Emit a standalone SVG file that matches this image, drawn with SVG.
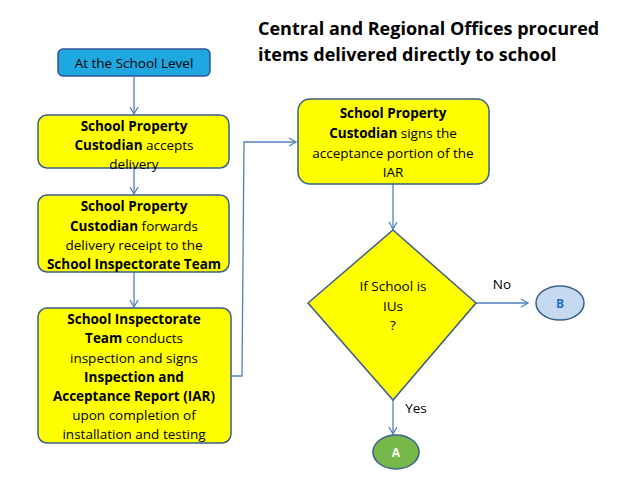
<svg xmlns="http://www.w3.org/2000/svg" width="638" height="478" viewBox="0 0 638 478">
<defs>
<style>
text{font-family:"Open Sans","Liberation Sans",sans-serif;font-size:13.5px;fill:#000;text-anchor:middle}
.b{font-weight:bold}
.box{fill:#FFFF00;stroke:#3B5E8C;stroke-width:1.5}
.c{fill:none;stroke:#4F81BD;stroke-width:1.3}
</style>
<marker id="ar" markerWidth="10" markerHeight="10" refX="8" refY="5" orient="auto" markerUnits="userSpaceOnUse"><path d="M1,1 L8,5 L1,9" fill="none" stroke="#4F81BD" stroke-width="1.3"/></marker>
</defs>
<rect width="638" height="478" fill="#fff"/>
<g id="title"><text x="258" y="35" class="b" style="font-size:18px;text-anchor:start">Central and Regional Offices procured</text>
<text x="258" y="61" class="b" style="font-size:18px;text-anchor:start">items delivered directly to school</text></g>
<g id="connectors">
<path class="c" d="M134,77 V114" marker-end="url(#ar)"/>
<path class="c" d="M134,168 V194" marker-end="url(#ar)"/>
<path class="c" d="M134,272 V307" marker-end="url(#ar)"/>
<path class="c" d="M231,376 H242 L244,142 H296" marker-end="url(#ar)"/>
<path class="c" d="M393,184 V229" marker-end="url(#ar)"/>
<path class="c" d="M476,303 H528" marker-end="url(#ar)"/>
<path class="c" d="M393,400 V434" marker-end="url(#ar)"/>
</g>
<g id="start"><rect x="58" y="49" width="152" height="27" rx="5" fill="#1FA7E1" stroke="#2F5597" stroke-width="1.5"/><text x="134" y="68">At the School Level</text></g>
<g id="n1"><rect class="box" x="38" y="115" width="191" height="53" rx="9"/>
<text x="134" y="131" class="b">School Property</text>
<text x="134" y="150"><tspan class="b">Custodian</tspan> accepts</text>
<text x="134" y="169">delivery</text></g>
<g id="n2"><rect class="box" x="38" y="195" width="191" height="77" rx="9"/>
<text x="134" y="211" class="b">School Property</text>
<text x="134" y="231"><tspan class="b">Custodian</tspan> forwards</text>
<text x="134" y="250">delivery receipt to the</text>
<text x="134" y="269" class="b">School Inspectorate Team</text></g>
<g id="n3"><rect class="box" x="38" y="308" width="193" height="135" rx="9"/>
<text x="134" y="324" class="b">School Inspectorate</text>
<text x="134" y="343"><tspan class="b">Team</tspan> conducts</text>
<text x="134" y="363">inspection and signs</text>
<text x="134" y="382" class="b">Inspection and</text>
<text x="134" y="401" class="b">Acceptance Report (IAR)</text>
<text x="134" y="420">upon completion of</text>
<text x="134" y="439">installation and testing</text></g>
<g id="n4"><rect class="box" x="298" y="99" width="191" height="85" rx="12"/>
<text x="393" y="118" class="b">School Property</text>
<text x="393" y="138"><tspan class="b">Custodian</tspan> signs the</text>
<text x="393" y="158">acceptance portion of the</text>
<text x="393" y="177">IAR</text></g>
<g id="d"><polygon class="box" points="393,230 476,303 393,400 308,303"/>
<text x="393" y="291">If School is</text><text x="393" y="311">IUs</text><text x="393" y="330">?</text></g>
<g id="lbl"><text x="502" y="289">No</text><text x="416" y="413">Yes</text></g>
<g id="B"><ellipse cx="560" cy="303" rx="24" ry="17" fill="#C6D9F1" stroke="#3B5E8C" stroke-width="1.5"/><text x="560" y="308" class="b" style="fill:#1F6FD0;font-size:12px">B</text></g>
<g id="A"><ellipse cx="396" cy="452" rx="23" ry="17" fill="#77B84A" stroke="#3B5E8C" stroke-width="1.5"/><text x="396" y="457" class="b" style="fill:#fff;font-size:12px">A</text></g>
</svg>
